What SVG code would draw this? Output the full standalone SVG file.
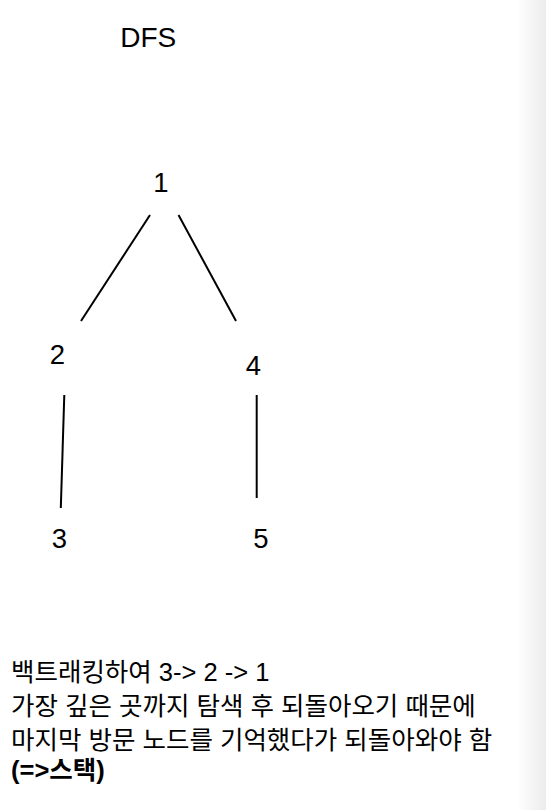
<svg xmlns="http://www.w3.org/2000/svg" width="546" height="810" viewBox="0 0 546 810">
<style>
  .lbl { font-family: "Liberation Sans", Arial, sans-serif; font-size: 27.5px; fill: #000; }
  .title { font-size: 28px; }
  .note { font-family: "Liberation Sans", "Noto Sans CJK KR", sans-serif; font-size: 25.5px; fill: #000; }
  .bold { font-weight: bold; }
  .edge { stroke: #000; stroke-width: 2; fill: none; stroke-linecap: butt; }
</style>
<defs>
  <linearGradient id="edgeShade" x1="0" y1="0" x2="1" y2="0">
    <stop offset="0" stop-color="#ffffff"/>
    <stop offset="1" stop-color="#ececec"/>
  </linearGradient>
</defs>
<rect x="0" y="0" width="546" height="810" fill="#ffffff"/>
<rect x="516" y="0" width="30" height="810" fill="url(#edgeShade)"/>

<g id="title"><text class="lbl title" x="120.2" y="46.7">DFS</text></g>

<g id="connectors">
  <line class="edge" x1="150" y1="215" x2="81" y2="321"/>
  <line class="edge" x1="178.5" y1="215" x2="236" y2="321"/>
  <line class="edge" x1="64.3" y1="395" x2="60.8" y2="508"/>
  <line class="edge" x1="256.7" y1="395" x2="256.7" y2="498"/>
</g>

<g id="node1"><text class="lbl" x="161" y="191.7" text-anchor="middle">1</text></g>
<g id="node2"><text class="lbl" x="57.5" y="364" text-anchor="middle">2</text></g>
<g id="node4"><text class="lbl" x="253.5" y="375" text-anchor="middle">4</text></g>
<g id="node3"><text class="lbl" x="59.5" y="548" text-anchor="middle">3</text></g>
<g id="node5"><text class="lbl" x="261" y="548" text-anchor="middle">5</text></g>

<g id="note">
  <text class="note" x="11" y="681">백트래킹하여 3-&gt; 2 -&gt; 1</text>
  <text class="note" x="11" y="715">가장 깊은 곳까지 탐색 후 되돌아오기 때문에</text>
  <text class="note" x="11" y="749">마지막 방문 노드를 기억했다가 되돌아와야 함</text>
  <text class="note bold" x="11" y="779">(=&gt;스택)</text>
</g>
</svg>
